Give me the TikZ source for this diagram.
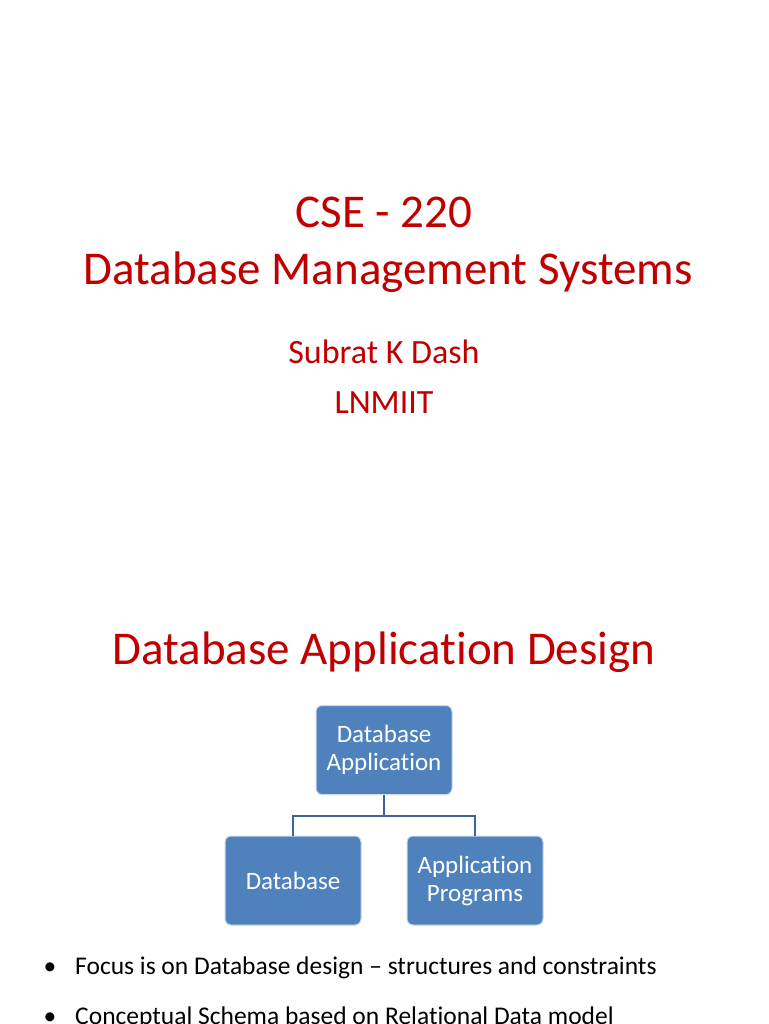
\documentclass[tikz,border=0pt]{standalone}
\usepackage{fontspec}
\setmainfont{Carlito}[Ligatures=NoCommon]
\definecolor{tred}{HTML}{C00000}
\definecolor{bfill}{HTML}{4F81BD}
\definecolor{bline}{HTML}{3C6596}
\tikzset{box/.style={draw=white!70!bfill,line width=1pt,fill=bfill,rounded corners=6pt,minimum width=136pt,minimum height=89pt,text=white,align=center,font=\fontsize{25}{28}\selectfont},
title/.style={text=tred,anchor=base},
bul/.style={anchor=base west,font=\fontsize{25.5}{28}\selectfont}}
\begin{document}
\begin{tikzpicture}[x=1pt,y=-1pt]
\useasboundingbox (0,0) rectangle (768,1024);
\clip (0,0) rectangle (768,1024);
\fill[white] (0,0) rectangle (768,1024);
\node[title,font=\fontsize{47}{50}\selectfont] (t1) at (384,228) {CSE - 220};
\node[title,font=\fontsize{47}{50}\selectfont] (t2) at (388,284) {Database Management Systems};
\node[title,font=\fontsize{34}{36}\selectfont] (s1) at (384,363) {Subrat K Dash};
\node[title,font=\fontsize{34}{36}\selectfont] (s2) at (384,413) {LNMIIT};
\node[title,font=\fontsize{47}{54}\selectfont] (t3) at (384,664) {Database Application Design};
\node[box] (a) at (384,750) {Database\\Application};
\node[box] (b) at (293,880.5) {Database};
\node[box] (c) at (475,880.5) {Application\\Programs};
\draw[bline,line width=1.5pt] (a.south) -- ++(0,21) coordinate (m) -| (b.north);
\draw[bline,line width=1.5pt] (m) -| (c.north);
\node[bul] (l1) at (40,974) {•\hspace{19pt}Focus is on Database design – structures and constraints};
\node[bul] (l2) at (40,1024) {•\hspace{19pt}Conceptual Schema based on Relational Data model};
\end{tikzpicture}
\end{document}
